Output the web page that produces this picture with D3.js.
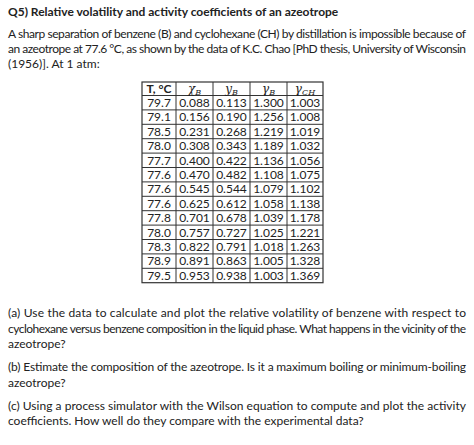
<!DOCTYPE html>
<html><head><meta charset="utf-8">
<script src="https://cdn.jsdelivr.net/npm/d3@7"></script>
<style>body{margin:0;background:#fff}</style></head>
<body><svg id="page" width="474" height="445"></svg>
<script>
const temps = ["79.7","79.1","78.5","78.0","77.7","77.6","77.6","77.6","77.8","78.0","78.3","78.9","79.5"];
const xB = ["0.088","0.156","0.231","0.308","0.400","0.470","0.545","0.625","0.701","0.757","0.822","0.891","0.953"];
const yB = ["0.113","0.190","0.268","0.343","0.422","0.482","0.544","0.612","0.678","0.727","0.791","0.863","0.938"];
const gB = ["1.300","1.256","1.219","1.189","1.136","1.108","1.079","1.058","1.039","1.025","1.018","1.005","1.003"];
const gCH = ["1.003","1.008","1.019","1.032","1.056","1.075","1.102","1.138","1.178","1.221","1.263","1.328","1.369"];
const headers = [["T, °C",""],["χ","B"],["y","B"],["γ","B"],["γ","CH"]];

const svg = d3.select("#page");
const font = "Lato, 'Open Sans', sans-serif";
const ink = "#222";

/*text lines: [text, y baseline, justified?]*/
const lines = [
  ["A sharp separation of benzene (B) and cyclohexane (CH) by distillation is impossible because of", 38, true],
  ["an azeotrope at 77.6 °C, as shown by the data of K.C. Chao [PhD thesis, University of Wisconsin", 53, true],
  ["(1956)]. At 1 atm:", 68, false],
  ["(a) Use the data to calculate and plot the relative volatility of benzene with respect to", 317, true],
  ["cyclohexane versus benzene composition in the liquid phase. What happens in the vicinity of the", 333, true],
  ["azeotrope?", 348, false],
  ["(b) Estimate the composition of the azeotrope. Is it a maximum boiling or minimum-boiling", 371, true],
  ["azeotrope?", 387, false],
  ["(c) Using a process simulator with the Wilson equation to compute and plot the activity", 410, true],
  ["coefficients. How well do they compare with the experimental data?", 425, false]
];

svg.append("text").attr("x", 8).attr("y", 16)
  .style("font-family", font).style("font-size", "12px").style("font-weight", "bold").style("fill", ink)
  .text("Q5) Relative volatility and activity coefficients of an azeotrope");

svg.selectAll("text.para").data(lines).enter().append("text")
  .attr("class", "para")
  .attr("x", 8).attr("y", d => d[1])
  .attr("textLength", d => d[2] ? 458 : null)
  .attr("lengthAdjust", "spacing")
  .style("font-family", font).style("font-size", "12px").style("fill", ink)
  .text(d => d[0]);

/*table*/
const cols = [temps, xB, yB, gB, gCH];
const colEdges = [142, 176, 213, 250, 287, 323];
const tableTop = 82, headH = 13.5, rowH = 14.4;
const y = d3.scaleLinear().domain([0, temps.length]).range([tableTop + headH, tableTop + headH + rowH * temps.length]);
const tbl = svg.append("g");

tbl.append("rect").attr("x", colEdges[0]).attr("y", tableTop)
  .attr("width", colEdges[5] - colEdges[0]).attr("height", y(temps.length) - tableTop)
  .attr("fill", "none").attr("stroke", "#333").attr("stroke-width", 1.2);
colEdges.slice(1, 5).forEach(x => tbl.append("line").attr("x1", x).attr("x2", x)
  .attr("y1", tableTop).attr("y2", y(temps.length)).attr("stroke", "#333"));
d3.range(0, temps.length).forEach(i => tbl.append("line").attr("x1", colEdges[0]).attr("x2", colEdges[5])
  .attr("y1", y(i)).attr("y2", y(i)).attr("stroke", "#333"));

headers.forEach((h, c) => {
  const t = tbl.append("text").attr("x", (colEdges[c] + colEdges[c + 1]) / 2).attr("y", tableTop + 11)
    .attr("text-anchor", "middle").style("font-size", "12px").style("fill", ink);
  if (c === 0) {
    t.style("font-family", font).style("font-weight", "bold").text(h[0]);
  } else {
    t.style("font-family", "'DejaVu Serif', serif").style("font-style", "italic");
    t.append("tspan").text(h[0]);
    t.append("tspan").attr("dy", 2).style("font-size", "8px").text(h[1]);
  }
});

cols.forEach((col, c) => {
  tbl.selectAll(null).data(col).enter().append("text")
    .attr("x", (colEdges[c] + colEdges[c + 1]) / 2)
    .attr("y", (d, i) => y(i) + rowH - 3)
    .attr("text-anchor", "middle")
    .style("font-family", font).style("font-size", "12px").style("fill", ink)
    .text(d => d);
});
</script></body></html>
